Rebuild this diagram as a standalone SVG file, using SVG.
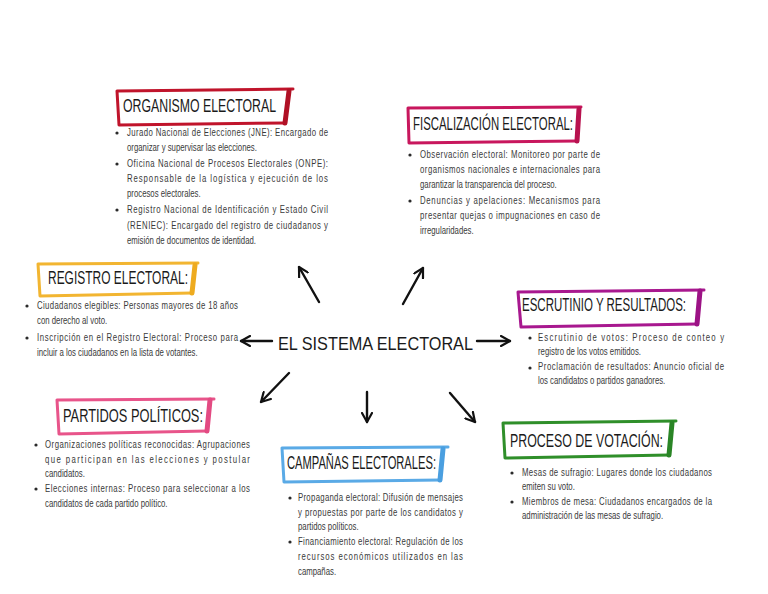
<svg xmlns="http://www.w3.org/2000/svg" width="768" height="594" viewBox="0 0 768 594">
<defs>
<marker id="ah" viewBox="0 0 12 12" refX="10" refY="6" markerWidth="12" markerHeight="12" markerUnits="userSpaceOnUse" orient="auto">
<path d="M1,1 L10,6 L1,11" fill="none" stroke="#111" stroke-width="2.2" stroke-linecap="round" stroke-linejoin="round"/>
</marker>
<style>
.t{font-family:"Liberation Sans",Arial,sans-serif;font-size:18px;fill:#1a1a1a}
.b{font-family:"Liberation Sans",Arial,sans-serif;font-size:10px;fill:#3a3a3a}
.box{fill:none;stroke-width:3;stroke-linejoin:round;stroke-linecap:round}
.edge{fill:none;stroke-width:5;stroke-linecap:round}
.dot{fill:#2a2a2a}
.arr{fill:none;stroke:#111;stroke-width:2.4;stroke-linecap:round;marker-end:url(#ah)}
</style>
</defs>
<rect width="768" height="594" fill="#ffffff"/>

<g id="center">
<text class="t" x="278" y="350" font-size="24" textLength="195" lengthAdjust="spacingAndGlyphs">EL SISTEMA ELECTORAL</text>
</g>

<g id="connectors">
<line class="arr" x1="319" y1="302" x2="299" y2="267"/>
<line class="arr" x1="403" y1="304" x2="423" y2="268"/>
<line class="arr" x1="272" y1="341" x2="241" y2="341"/>
<line class="arr" x1="477" y1="341" x2="510" y2="341"/>
<line class="arr" x1="289" y1="373" x2="261" y2="402"/>
<line class="arr" x1="367" y1="392" x2="367" y2="422"/>
<line class="arr" x1="450" y1="393" x2="475" y2="422"/>
</g>

<g id="organismo">
<path class="box" stroke="#c0142b" d="M117,91 L293,89 M119,125 L285,123 M117,91 L119,125"/>
<path class="edge" stroke="#b01025" d="M289,91 L285,123"/>
<text class="t" x="123" y="112" textLength="153" lengthAdjust="spacingAndGlyphs">ORGANISMO ELECTORAL</text>
<circle class="dot" cx="117" cy="133" r="1.6"/>
<circle class="dot" cx="117" cy="164" r="1.6"/>
<circle class="dot" cx="117" cy="210" r="1.6"/>
<g transform="translate(127,0) scale(0.78,1)">
<text class="b" x="0" y="136" textLength="257.7" lengthAdjust="spacing">Jurado Nacional de Elecciones (JNE): Encargado de</text>
<text class="b" x="0" y="151">organizar y supervisar las elecciones.</text>
<text class="b" x="0" y="167" textLength="257.7" lengthAdjust="spacing">Oficina Nacional de Procesos Electorales (ONPE):</text>
<text class="b" x="0" y="182" textLength="257.7" lengthAdjust="spacing">Responsable de la logística y ejecución de los</text>
<text class="b" x="0" y="197">procesos electorales.</text>
<text class="b" x="0" y="213" textLength="257.7" lengthAdjust="spacing">Registro Nacional de Identificación y Estado Civil</text>
<text class="b" x="0" y="229" textLength="257.7" lengthAdjust="spacing">(RENIEC): Encargado del registro de ciudadanos y</text>
<text class="b" x="0" y="244">emisión de documentos de identidad.</text>
</g>
</g>

<g id="fiscalizacion">
<path class="box" stroke="#c8175d" d="M408,108 L581,107 M409,143 L577,141 M408,108 L409,143"/>
<path class="edge" stroke="#b8124f" d="M579,109 L577,141"/>
<text class="t" x="413" y="130" font-size="17" textLength="160" lengthAdjust="spacingAndGlyphs">FISCALIZACIÓN ELECTORAL:</text>
<circle class="dot" cx="410" cy="155" r="1.6"/>
<circle class="dot" cx="410" cy="201" r="1.6"/>
<g transform="translate(420,0) scale(0.78,1)">
<text class="b" x="0" y="158" textLength="230.8" lengthAdjust="spacing">Observación electoral: Monitoreo por parte de</text>
<text class="b" x="0" y="173" textLength="230.8" lengthAdjust="spacing">organismos nacionales e internacionales para</text>
<text class="b" x="0" y="188">garantizar la transparencia del proceso.</text>
<text class="b" x="0" y="204" textLength="230.8" lengthAdjust="spacing">Denuncias y apelaciones: Mecanismos para</text>
<text class="b" x="0" y="219" textLength="230.8" lengthAdjust="spacing">presentar quejas o impugnaciones en caso de</text>
<text class="b" x="0" y="234">irregularidades.</text>
</g>
</g>

<g id="registro">
<path class="box" stroke="#f2b531" d="M38,264 L198,263 M40,296 L192,293 M38,264 L40,296"/>
<path class="edge" stroke="#eeab1f" d="M195,265 L192,293"/>
<text class="t" x="48" y="284" font-size="17" textLength="140" lengthAdjust="spacingAndGlyphs">REGISTRO ELECTORAL:</text>
<circle class="dot" cx="27" cy="306" r="1.6"/>
<circle class="dot" cx="27" cy="338" r="1.6"/>
<g transform="translate(37,0) scale(0.78,1)">
<text class="b" x="0" y="309" textLength="257.7" lengthAdjust="spacing">Ciudadanos elegibles: Personas mayores de 18 años</text>
<text class="b" x="0" y="324">con derecho al voto.</text>
<text class="b" x="0" y="341" textLength="257.7" lengthAdjust="spacing">Inscripción en el Registro Electoral: Proceso para</text>
<text class="b" x="0" y="356">incluir a los ciudadanos en la lista de votantes.</text>
</g>
</g>

<g id="escrutinio">
<path class="box" stroke="#a8188f" d="M518,292 L704,290 M521,327 L697,324 M518,292 L521,327"/>
<path class="edge" stroke="#9c1285" d="M700,291 L697,324"/>
<text class="t" x="522" y="311" textLength="164" lengthAdjust="spacingAndGlyphs">ESCRUTINIO Y RESULTADOS:</text>
<circle class="dot" cx="530" cy="338" r="1.6"/>
<circle class="dot" cx="530" cy="368" r="1.6"/>
<g transform="translate(538,0) scale(0.78,1)">
<text class="b" x="0" y="341" textLength="238.5" lengthAdjust="spacing">Escrutinio de votos: Proceso de conteo y</text>
<text class="b" x="0" y="355">registro de los votos emitidos.</text>
<text class="b" x="0" y="370" textLength="238.5" lengthAdjust="spacing">Proclamación de resultados: Anuncio oficial de</text>
<text class="b" x="0" y="384">los candidatos o partidos ganadores.</text>
</g>
</g>

<g id="partidos">
<path class="box" stroke="#e8548a" d="M57,400 L214,399 M59,434 L207,431 M57,400 L59,434"/>
<path class="edge" stroke="#e34a82" d="M210,400 L207,431"/>
<text class="t" x="63" y="422" textLength="140" lengthAdjust="spacingAndGlyphs">PARTIDOS POLÍTICOS:</text>
<circle class="dot" cx="36" cy="445" r="1.6"/>
<circle class="dot" cx="36" cy="489" r="1.6"/>
<g transform="translate(45,0) scale(0.78,1)">
<text class="b" x="0" y="448" textLength="262.8" lengthAdjust="spacing">Organizaciones políticas reconocidas: Agrupaciones</text>
<text class="b" x="0" y="463" textLength="262.8" lengthAdjust="spacing">que participan en las elecciones y postular</text>
<text class="b" x="0" y="477">candidatos.</text>
<text class="b" x="0" y="492" textLength="262.8" lengthAdjust="spacing">Elecciones internas: Proceso para seleccionar a los</text>
<text class="b" x="0" y="507">candidatos de cada partido político.</text>
</g>
</g>

<g id="campanas">
<path class="box" stroke="#5aaae6" d="M282,448 L448,447 M284,482 L440,480 M282,448 L284,482"/>
<path class="edge" stroke="#4a9fe0" d="M443,449 L440,480"/>
<text class="t" x="287" y="469" font-size="16" textLength="149" lengthAdjust="spacingAndGlyphs">CAMPAÑAS ELECTORALES:</text>
<circle class="dot" cx="290" cy="498" r="1.6"/>
<circle class="dot" cx="290" cy="542" r="1.6"/>
<g transform="translate(298,0) scale(0.78,1)">
<text class="b" x="0" y="501" textLength="211.5" lengthAdjust="spacing">Propaganda electoral: Difusión de mensajes</text>
<text class="b" x="0" y="516" textLength="211.5" lengthAdjust="spacing">y propuestas por parte de los candidatos y</text>
<text class="b" x="0" y="530">partidos políticos.</text>
<text class="b" x="0" y="545" textLength="211.5" lengthAdjust="spacing">Financiamiento electoral: Regulación de los</text>
<text class="b" x="0" y="560" textLength="211.5" lengthAdjust="spacing">recursos económicos utilizados en las</text>
<text class="b" x="0" y="575">campañas.</text>
</g>
</g>

<g id="proceso">
<path class="box" stroke="#2f8f2a" d="M503,423 L676,421 M505,458 L669,455 M503,423 L505,458"/>
<path class="edge" stroke="#2a8526" d="M672,423 L669,455"/>
<text class="t" x="510" y="447" textLength="153" lengthAdjust="spacingAndGlyphs">PROCESO DE VOTACIÓN:</text>
<circle class="dot" cx="512" cy="473" r="1.6"/>
<circle class="dot" cx="512" cy="502" r="1.6"/>
<g transform="translate(522,0) scale(0.78,1)">
<text class="b" x="0" y="476" textLength="243.6" lengthAdjust="spacing">Mesas de sufragio: Lugares donde los ciudadanos</text>
<text class="b" x="0" y="490">emiten su voto.</text>
<text class="b" x="0" y="505" textLength="243.6" lengthAdjust="spacing">Miembros de mesa: Ciudadanos encargados de la</text>
<text class="b" x="0" y="519">administración de las mesas de sufragio.</text>
</g>
</g>
</svg>
